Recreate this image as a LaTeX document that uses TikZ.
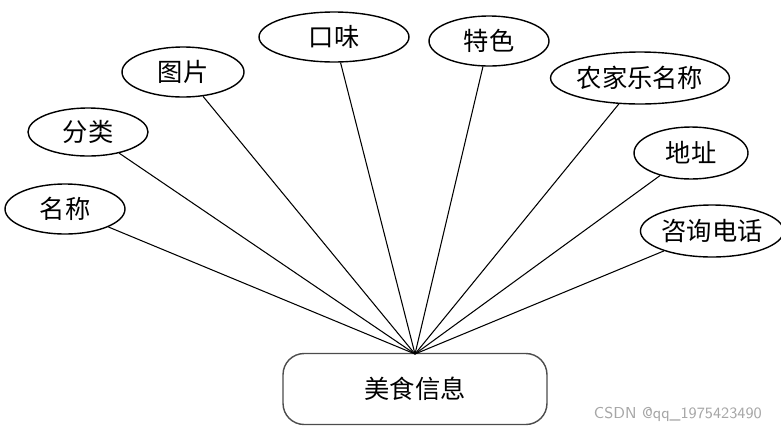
\documentclass[tikz,border=0pt]{standalone}
\usepackage{fontspec}
\newfontfamily\cjk{Noto Sans CJK SC}
\usetikzlibrary{shapes.geometric}
\begin{document}
\begin{tikzpicture}[x=0.02cm,y=-0.02cm,
  attr/.style={draw,ellipse,thick,inner sep=0pt,font=\cjk\Large},
  ent/.style={draw,thick,rounded corners=12pt,gray!60!black,text=black,font=\cjk\Large,minimum width=5.28cm,minimum height=1.42cm}]
  \useasboundingbox (0,0) rectangle (781,437);

  \node[ent] (food) at (415,389) {美食信息};
  \coordinate (hub) at (415,354);

  \node[attr,minimum width=2.4cm,minimum height=1cm] (name) at (65,209) {名称};
  \node[attr,minimum width=2.4cm,minimum height=0.96cm] (kind) at (88,132) {分类};
  \node[attr,minimum width=2.44cm,minimum height=1cm] (pic) at (183,72) {图片};
  \node[attr,minimum width=3cm,minimum height=1cm] (taste) at (334,37) {口味};
  \node[attr,minimum width=2.4cm,minimum height=1cm] (feat) at (489,41) {特色};
  \node[attr,minimum width=3cm,minimum height=1.04cm] (farm) at (640,78) {农家乐名称};
  \node[attr,minimum width=2.28cm,minimum height=1.04cm] (addr) at (691,153) {地址};
  \node[attr,minimum width=2.32cm,minimum height=1.04cm] (tel) at (712,231) {咨询电话};

  \foreach \n in {name,kind,pic,taste,feat,farm,addr,tel}
    \draw[semithick] (\n) -- (hub);

  \node[gray!70,font=\sffamily\small,anchor=south east] (mark) at (768,428) {CSDN @qq\_1975423490};
\end{tikzpicture}
\end{document}
